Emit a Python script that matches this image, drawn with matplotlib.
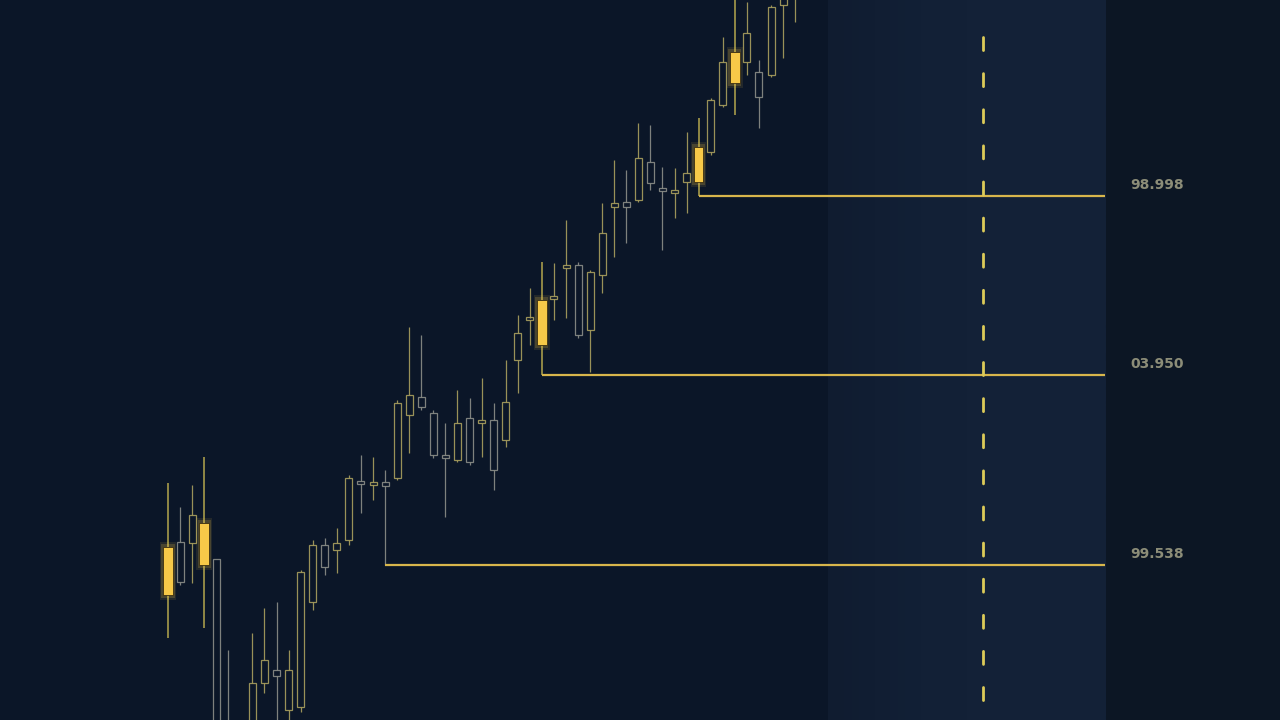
import matplotlib
matplotlib.use("Agg")
import matplotlib.pyplot as plt
from matplotlib.patches import Rectangle
from matplotlib.colors import LinearSegmentedColormap
import matplotlib.transforms as mtransforms
import numpy as np

# ---------------- data ----------------
opens = [12.5, 17.8, 17.7, 15.5, 16.1, -1.0, -8.0, -2.0, 3.7, 5.0,
         1.0, 1.3, 11.8, 17.5, 17.0, 18.0, 23.9, 23.5, 23.8, 24.2,
         30.5, 32.3, 30.7, 26.5, 26.0, 30.2, 29.7, 30.0, 28.0, 36.0,
         40.0, 37.5, 42.1, 45.2, 45.5, 39.0, 44.5, 51.3, 51.8, 52.0,
         55.8, 53.2, 52.7, 53.8, 53.8, 56.8, 61.5, 63.7, 65.8, 64.8,
         64.5, 71.5, 72.5]
closes = [17.3, 13.8, 20.5, 19.7, -4.0, -8.0, -4.0, 3.7, 6.0, 4.4,
          5.0, 14.8, 17.5, 15.3, 17.7, 24.2, 23.6, 23.8, 23.4, 31.7,
          32.5, 31.3, 26.5, 26.2, 29.7, 25.8, 30.0, 25.0, 31.8, 38.7,
          40.2, 42.0, 42.4, 45.5, 38.5, 44.8, 48.7, 51.7, 51.3, 56.2,
          53.7, 52.9, 53.0, 54.7, 57.3, 62.0, 65.8, 66.8, 68.7, 62.3,
          71.3, 74.0, 74.0]
highs = [23.7, 21.3, 23.5, 26.3, 16.1, 7.0, -2.0, 8.7, 11.2, 11.8,
         7.0, 15.0, 18.0, 18.2, 19.2, 24.5, 26.5, 26.3, 25.0, 32.0,
         39.3, 38.5, 31.0, 29.7, 33.0, 32.2, 34.2, 31.7, 36.0, 40.5,
         43.2, 45.8, 45.7, 50.0, 45.8, 45.0, 51.7, 56.0, 55.0, 59.7,
         59.5, 55.3, 55.2, 58.8, 60.2, 62.2, 68.3, 73.0, 71.8, 66.0,
         71.5, 75.0, 75.0]
lows = [8.2, 13.5, 13.7, 9.2, -6.0, -10.0, -10.0, -4.0, 2.7, -2.0,
        -1.0, 0.8, 11.0, 14.5, 14.7, 17.5, 20.7, 22.0, 15.5, 24.0,
        26.7, 31.0, 26.2, 20.3, 25.8, 25.5, 26.3, 23.0, 27.3, 32.7,
        37.5, 34.5, 40.0, 40.2, 38.2, 34.8, 42.7, 46.3, 47.7, 51.8,
        53.0, 47.0, 50.2, 50.7, 52.4, 56.5, 61.3, 60.5, 64.5, 59.2,
        64.3, 66.2, 69.8]
highlight = [0, 3, 31, 44, 47]
level_candles = [18, 31, 44]
level_labels = ["99.538", "03.950", "98.998"]

# ---------------- style ----------------
BG = "#0b1628"
UP = "#a99f5e"
DOWN = "#8b8e88"
GOLD = "#f7c948"
LEVEL = "#d8b64c"
DASH = "#dccb58"
LABEL = "#8c8d78"

fig = plt.figure(figsize=(12.8, 7.2), dpi=100, facecolor=BG)
ax = fig.add_axes([0, 0, 1, 1])
ax.set_facecolor(BG)
ax.axis("off")
x0, x1 = -13.93, 92.2
y0, y1 = 0.0, 72.0
ax.set_xlim(x0, x1)
ax.set_ylim(y0, y1)

def fx(frac):
    return x0 + frac * (x1 - x0)

band_l, band_r = fx(828 / 1280), fx(1105 / 1280)
# shaded band with soft gradient
cmap = LinearSegmentedColormap.from_list("band", ["#101c30", "#122036", "#142238", "#132137"])
grad = np.linspace(0, 1, 256).reshape(1, -1)
ax.imshow(grad, extent=[band_l, band_r, y0, y1], aspect="auto", cmap=cmap, zorder=0.5)
ax.axvspan(band_r, x1, color="#0c1624", zorder=0.4, lw=0)

w = 0.58
for i, (o, c, h, l) in enumerate(zip(opens, closes, highs, lows)):
    top, bot = max(o, c), min(o, c)
    hgt = max(top - bot, 0.3)
    if i in highlight:
        wick_c = "#9a9048"
        ax.vlines(i, top, h, color=wick_c, lw=1.3, zorder=2)
        ax.vlines(i, l, bot, color=wick_c, lw=1.3, zorder=2)
        ww = 0.78
        for k, a in [(0.5, 0.10), (0.3, 0.18)]:
            ax.add_patch(Rectangle((i - ww / 2 - k / 2, bot - k), ww + k, hgt + 2 * k,
                                   facecolor=GOLD, edgecolor="none", alpha=a, zorder=2.5))
        ax.add_patch(Rectangle((i - ww / 2, bot), ww, hgt, facecolor=GOLD,
                               edgecolor="#3a2e10", lw=0.6, zorder=3, joinstyle="round"))
    else:
        col = UP if c >= o else DOWN
        ax.vlines(i, top, h, color=col, lw=0.9, alpha=0.9, zorder=2)
        ax.vlines(i, l, bot, color=col, lw=0.9, alpha=0.9, zorder=2)
        ax.add_patch(Rectangle((i - w / 2, bot), w, hgt, facecolor="none",
                               edgecolor=col, lw=0.9, alpha=0.9, zorder=2))

# support levels from candle lows
label_x = fx(1130 / 1280)
for idx, txt in zip(level_candles, level_labels):
    lvl = lows[idx]
    ax.plot([idx, band_r], [lvl, lvl], color=LEVEL, lw=1.6, zorder=4, solid_capstyle="butt")
    ax.text(label_x, lvl + 1.1, txt, color=LABEL, fontsize=10, fontweight="bold",
            family="DejaVu Sans", ha="left", va="center", zorder=5)

# dashed vertical marker
trans = mtransforms.blended_transform_factory(ax.transData, ax.transAxes)
vx = fx(983 / 1280)
ax.plot([vx, vx], [1 - 37 / 720, 0], transform=trans, color=DASH, lw=2.0,
        dashes=(4.7, 8.3), dash_capstyle="round", zorder=4)

fig.savefig("out.png", dpi=100, facecolor=BG)
